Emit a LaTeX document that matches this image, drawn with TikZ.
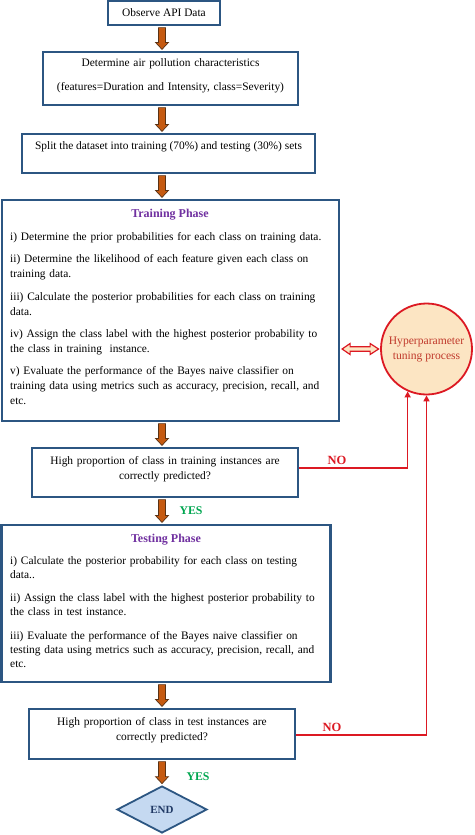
\documentclass[tikz,border=0pt]{standalone}
\usepackage{fontspec}
\setmainfont{Liberation Serif}
\usetikzlibrary{arrows.meta,shapes.geometric,calc}
\definecolor{boxblue}{RGB}{44,86,130}
\definecolor{arrfill}{RGB}{197,90,17}
\definecolor{arrline}{RGB}{90,50,20}
\definecolor{phasepurple}{RGB}{112,48,160}
\definecolor{nored}{RGB}{220,25,35}
\definecolor{yesgreen}{RGB}{0,166,80}
\definecolor{circfill}{RGB}{252,229,195}
\definecolor{circtext}{RGB}{192,57,43}
\definecolor{endfill}{RGB}{197,217,241}
\definecolor{endtext}{RGB}{31,56,100}
\tikzset{
  every node/.style={font=\fontsize{11.4}{15}\selectfont},
  flowbox/.style={draw=boxblue, line width=2.2pt, fill=white, rectangle, inner sep=0pt},
  txt/.style={anchor=base, align=center, inner sep=0pt},
  bodytxt/.style={anchor=base west, align=left, inner sep=0pt, text width=330pt},
  phasetitle/.style={anchor=base, inner sep=0pt, text=phasepurple, font=\fontsize{12}{14}\selectfont\bfseries},
  barrow/.style={fill=arrfill, draw=arrline, line width=0.7pt, line join=miter},
  harrow/.style={fill=circfill, draw=nored, line width=1.2pt, line join=miter},
  noline/.style={draw=nored, line width=1.6pt, -{Triangle[width=6pt,length=6pt]}},
  nolabel/.style={anchor=center, inner sep=0pt, text=nored, font=\fontsize{12.5}{14}\selectfont\bfseries},
  yeslabel/.style={anchor=center, inner sep=0pt, text=yesgreen, font=\fontsize{11.8}{14}\selectfont\bfseries},
}
\newcommand\flowarrow[2]{%
  \filldraw[barrow] let \p1=(spine |- #1.south), \p2=(spine |- #2.north) in
   (\x1-3.5pt,\y1-1.5pt) -- (\x1+3.5pt,\y1-1.5pt) -- (\x1+3.5pt,\y2+8.5pt) --
   (\x1+6.5pt,\y2+8.5pt) -- (\x1,\y2+1.5pt) -- (\x1-6.5pt,\y2+8.5pt) --
   (\x1-3.5pt,\y2+8.5pt) -- cycle;}
\begin{document}
\begin{tikzpicture}[x=1pt,y=-1pt]
\useasboundingbox[fill=white] (0,0) rectangle (474,835);
\coordinate (spine) at (162,0);

% boxes
\node[flowbox, minimum width=112pt, minimum height=24pt] (obs) at (164,13) {};
\node[flowbox, minimum width=255pt, minimum height=53pt] (char) at (170.5,78.5) {};
\node[flowbox, minimum width=293pt, minimum height=39pt] (split) at (168.5,153.5) {};
\node[flowbox, minimum width=337pt, minimum height=221pt] (train) at (170.5,310.5) {};
\node[flowbox, minimum width=266pt, minimum height=49pt] (d1) at (165,472.5) {};
\node[flowbox, minimum width=329pt, minimum height=157pt] (test) at (166,603.5) {};
\node[flowbox, minimum width=266pt, minimum height=50pt] (d2) at (162,734) {};
\node[diamond, draw=boxblue, line width=1.8pt, fill=endfill, minimum width=90pt, minimum height=47pt, inner sep=0pt, text=endtext, font=\fontsize{11}{12}\selectfont\bfseries] (end) at (162,809.5) {END};
\node[circle, draw=nored, line width=1.8pt, fill=circfill, minimum size=91pt, inner sep=0pt, align=center, text=circtext, font=\fontsize{11.6}{15}\selectfont] (circ) at (426.5,349) {Hyperparameter\\tuning process};

% texts
\node[txt] (obs-t) at (164,16.5) {Observe API Data};
\node[txt, text width=300pt] (char-t) at (170.5,66.5) {Determine air pollution characteristics\\[9pt](features=Duration and Intensity, class=Severity)};
\node[txt] (split-t) at (168.5,149.5) {Split the dataset into training (70\%) and testing (30\%) sets};

\node[phasetitle] (train-title) at (170,217) {Training Phase};
\node[bodytxt] (train-body) at (10,240.5) {%
i) Determine the prior probabilities for each class on training data.\\[7pt]
ii) Determine the likelihood of each feature given each class on\\
training data.\\[8pt]
iii) Calculate the posterior probabilities for each class on training\\
data.\\[7pt]
iv) Assign the class label with the highest posterior probability to\\
the class in training\ \ instance.\\[7pt]
v) Evaluate the performance of the Bayes naive classifier on\\
training data using metrics such as accuracy, precision, recall, and\\
etc.};

\node[txt, text width=300pt, font=\fontsize{11.4}{14.5}\selectfont] (d1-t) at (165,464.5) {High proportion of class in training instances are\\correctly predicted?};

\node[phasetitle] (test-title) at (166,542) {Testing Phase};
\node[bodytxt, font=\fontsize{11.4}{14}\selectfont] (test-body) at (10,564.5) {%
i) Calculate the posterior probability for each class on testing\\
data..\\[9pt]
ii) Assign the class label with the highest posterior probability to\\
the class in test instance.\\[10pt]
iii) Evaluate the performance of the Bayes naive classifier on\\
testing data using metrics such as accuracy, precision, recall, and\\
etc.};

\node[txt, text width=300pt, font=\fontsize{11.4}{15}\selectfont] (d2-t) at (162,725.5) {High proportion of class in test instances are\\correctly predicted?};

% brown flow arrows
\flowarrow{obs}{char}
\flowarrow{char}{split}
\flowarrow{split}{train}
\flowarrow{train}{d1}
\flowarrow{d1}{test}
\flowarrow{test}{d2}
\flowarrow{d2}{end}

% double arrow between training and circle
\filldraw[harrow] let \p1=(train.east |- circ.west), \p2=(circ.west) in
  (\x1+2pt,\y2) -- (\x1+10pt,\y2+5.5pt) -- (\x1+10pt,\y2+2.3pt) -- (\x2-10pt,\y2+2.3pt) --
  (\x2-10pt,\y2+5.5pt) -- (\x2-1.5pt,\y2) -- (\x2-10pt,\y2-5.5pt) -- (\x2-10pt,\y2-2.3pt) --
  (\x1+10pt,\y2-2.3pt) -- (\x1+10pt,\y2-5.5pt) -- cycle;

% NO connectors
\draw[noline] ([yshift=4.5pt]d1.east) -| (circ.-114);
\draw[noline] ([yshift=-1pt]d2.east) -| (circ.south);

% labels
\node[nolabel] (no1) at (337,460) {NO};
\node[nolabel] (no2) at (332,727) {NO};
\node[yeslabel] (yes1) at (191,511) {YES};
\node[yeslabel] (yes2) at (198,777) {YES};
\end{tikzpicture}
\end{document}
